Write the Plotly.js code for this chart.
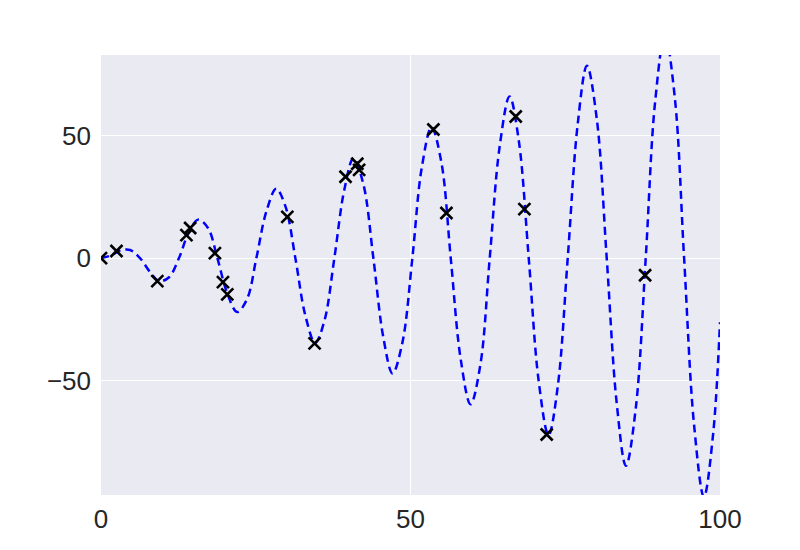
<!DOCTYPE html>
<html>
<head>
<meta charset="utf-8">
<script src="https://cdn.plot.ly/plotly-3.0.1.min.js"></script>
<style>
  body { margin: 0; background: #fff; }
  #myDiv { width: 800px; height: 550px; }
</style>
</head>
<body>
<div id="myDiv"></div>
<script>
// curve: zeros, half-way points and extremes
let curveX = [0, 1.6, 3.1, 4.7, 6.3, 7.9, 9.4, 11.0, 12.6, 14.1, 15.7, 17.3, 18.8, 20.4, 22.0, 23.6,
    25.1, 26.7, 28.3, 29.8, 31.4, 33.0, 34.6, 36.1, 37.7, 39.3, 40.8, 42.4, 44.0, 45.6, 47.1, 48.7,
    50.3, 51.8, 53.4, 55.0, 56.5, 58.1, 59.7, 61.3, 62.8, 64.4, 66.0, 67.5, 69.1, 70.7, 72.3, 73.8,
    75.4, 77.0, 78.5, 80.1, 81.7, 83.3, 84.8, 86.4, 88.0, 89.5, 91.1, 92.7, 94.2, 95.8, 97.4, 98.9, 100];
let curveY = [0, 1.1, 3.1, 3.3, 0, -5.6, -9.4, -7.8, 0, 10.0, 15.7, 12.2, 0, -14.4, -22.0, -16.7,
    0, 18.9, 28.3, 21.1, 0, -23.3, -34.6, -25.5, 0, 27.8, 40.8, 30.0, 0, -32.2, -47.1, -34.4,
    0, 36.6, 53.4, 38.9, 0, -41.1, -59.7, -43.3, 0, 45.5, 66.0, 47.8, 0, -50.0, -72.3, -52.2,
    0, 54.4, 78.5, 56.7, 0, -58.9, -84.8, -61.1, 0, 63.3, 91.1, 65.5, 0, -67.8, -97.4, -71.5, -26.2];

// observed points
let obsX = [0, 2.5, 9.1, 13.8, 14.4, 18.4, 19.7, 20.4, 30.1, 34.5, 39.5, 41.4, 41.7, 53.7, 55.8, 67.0, 68.4, 72.0, 87.9];
let obsY = [0, 2.9, -9.4, 9.4, 12.3, 2.0, -9.8, -14.8, 16.8, -34.8, 33.2, 38.5, 36.0, 52.5, 18.4, 57.8, 20.0, -72.0, -7.0];

let xTicks = [0, 50, 100];
let yTicks = [-50, 0, 50];

var data = [
    {
        x: curveX,
        y: curveY,
        type: 'scatter',
        mode: 'lines',
        line: {
            color: '#0000ff',
            width: 2.5,
            dash: '8px,5px',
            shape: 'spline'
        },
        hoverinfo: 'skip'
    },
    {
        x: obsX,
        y: obsY,
        type: 'scatter',
        mode: 'markers',
        marker: {
            symbol: 'x-thin',
            size: 12,
            color: '#000000',
            line: { color: '#000000', width: 2.6 }
        },
        cliponaxis: true
    }
];

var layout = {
    width: 800,
    height: 550,
    showlegend: false,
    margin: { l: 101, r: 80, t: 55, b: 55 },
    paper_bgcolor: '#ffffff',
    plot_bgcolor: '#eaeaf2',
    font: { family: 'Liberation Sans, Arial, sans-serif', size: 26, color: '#262626' },
    xaxis: {
        range: [0, 100],
        tickvals: xTicks,
        showgrid: true,
        gridcolor: '#ffffff',
        gridwidth: 1.2,
        zeroline: false,
        showline: false,
        ticks: '',
        ticklabelstandoff: 6
    },
    yaxis: {
        range: [-96.7, 82.9],
        tickvals: yTicks,
        showgrid: true,
        gridcolor: '#ffffff',
        gridwidth: 1.2,
        zeroline: false,
        showline: false,
        ticks: '',
        ticklabelstandoff: 9
    }
};

Plotly.newPlot('myDiv', data, layout, { staticPlot: true });
</script>
</body>
</html>
